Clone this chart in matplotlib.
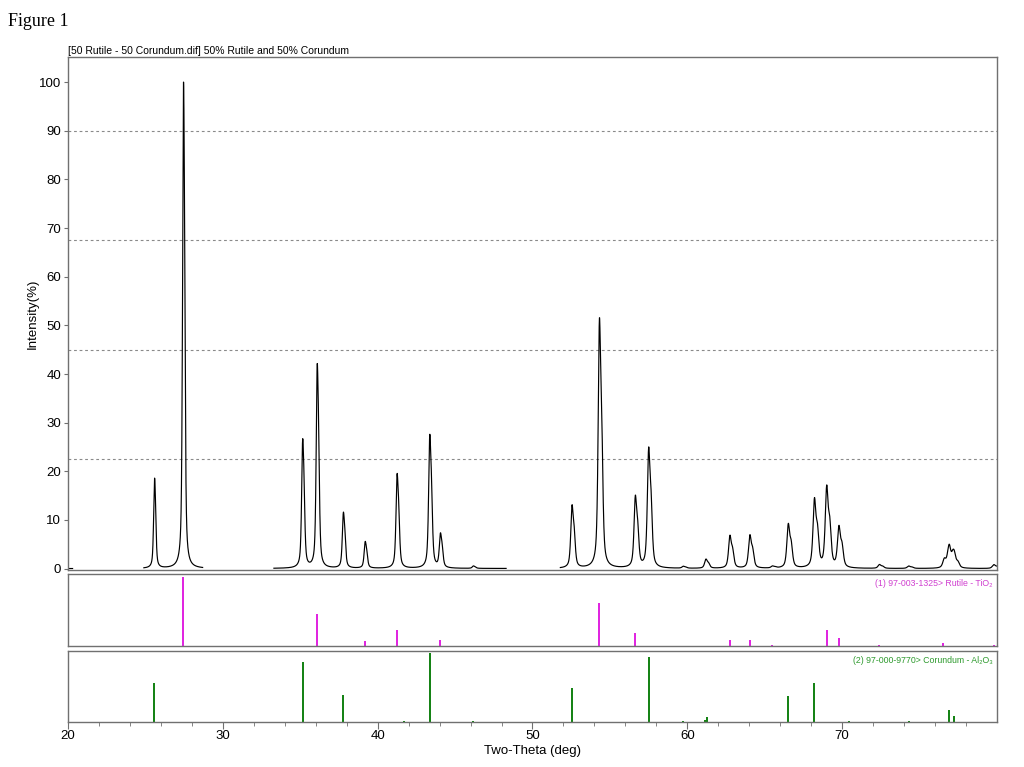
import numpy as np
import matplotlib
matplotlib.use("Agg")
import matplotlib.pyplot as plt

plt.rcParams['font.family'] = ['Liberation Sans', 'DejaVu Sans']

# observed pattern: peak positions (2-theta, deg) and peak heights (%)
peak_pos = [25.58, 27.45, 35.15, 36.09, 37.78, 39.19, 41.25, 43.36, 44.05, 46.18,
            52.55, 54.32, 56.64, 57.50, 59.74, 61.20, 62.75, 64.04, 65.50, 66.52,
            68.21, 69.00, 69.79, 72.41, 74.30, 76.60, 76.92, 77.25, 79.80]
peak_height = [18.5, 100, 26.5, 42, 11.5, 5.5, 19.5, 27.5, 7, 0.5,
               13, 51.5, 14.8, 24.8, 0.4, 1.9, 6.8, 6.9, 0.4, 9.2,
               14.3, 16.8, 8.5, 0.8, 0.5, 1.8, 4.2, 2.2, 0.8]
# ranges where the scan trace is drawn
drawn_ranges = [(20.0, 20.3), (24.9, 28.7), (33.3, 48.3), (51.8, 80.0)]

# reference sticks: Rutile TiO2
rutile_pos = [27.45, 36.09, 39.19, 41.25, 44.05, 54.32, 56.64, 62.75, 64.04, 65.48,
              69.01, 69.79, 72.41, 76.52, 79.82]
rutile_int = [100, 46, 7, 23, 8, 62, 19, 9, 9, 1, 23, 12, 2, 4, 1]

# reference sticks: Corundum Al2O3
corundum_pos = [25.58, 35.15, 37.78, 41.68, 43.36, 46.18, 52.55, 57.50, 59.74, 61.12,
                61.30, 66.52, 68.21, 70.42, 74.30, 76.87, 77.23]
corundum_int = [56, 87, 39, 1, 100, 2, 49, 94, 2, 3, 7, 38, 56, 1, 2, 17, 8]

# build trace (pseudo-Voigt, Ka1 + Ka2)
tt = np.arange(20.0, 80.0, 0.004)
lam_ratio = 1.54443 / 1.54056


def shape(x, c, w, eta=0.6):
    g = np.exp(-4 * np.log(2) * ((x - c) / w) ** 2)
    lor = 1.0 / (1.0 + 4 * ((x - c) / w) ** 2)
    return eta * lor + (1 - eta) * g


trace = np.zeros_like(tt)
for p, h in zip(peak_pos, peak_height):
    w = 0.12 + 0.002 * (p - 20)
    p2 = 2 * np.degrees(np.arcsin(lam_ratio * np.sin(np.radians(p / 2))))
    prof = shape(tt, p, w) + 0.5 * shape(tt, p2, w)
    trace += h * prof / prof.max()

mask = np.zeros_like(tt, dtype=bool)
for a, b in drawn_ranges:
    mask |= (tt >= a) & (tt <= b)
trace_plot = np.where(mask, trace, np.nan)

frame_col = '#707070'

fig = plt.figure(figsize=(10.24, 7.67), dpi=100)
ax = fig.add_axes([0.0664, 0.2568, 0.9072, 0.669])
ax_r = fig.add_axes([0.0664, 0.1578, 0.9072, 0.0939])
ax_c = fig.add_axes([0.0664, 0.0587, 0.9072, 0.0926])

# main trace
ax.plot(tt, trace_plot, color='black', lw=0.85)
for g in [22.5, 45, 67.5, 90]:
    ax.axhline(g, color='#8a8a8a', lw=0.8, ls=(0, (2.5, 2.5)), zorder=0)
ax.set_xlim(20, 80)
ax.set_ylim(-0.3, 105.2)
ax.set_yticks(range(0, 101, 10))
ax.set_xticks([])
ax.tick_params(axis='y', direction='out', length=3, color=frame_col, labelsize=9.5, pad=2)
ax.set_ylabel('Intensity(%)', fontsize=9.5, labelpad=0)
ax.set_title('[50 Rutile - 50 Corundum.dif] 50% Rutile and 50% Corundum',
             fontsize=7.5, loc='left', pad=2)

# rutile sticks
ax_r.vlines(rutile_pos, 0, rutile_int, color='#e020e0', lw=1.4)
ax_r.set_xlim(20, 80)
ax_r.set_ylim(0, 104)
ax_r.set_xticks([])
ax_r.set_yticks([])
ax_r.text(0.995, 0.93, '(1) 97-003-1325> Rutile - TiO\u2082', transform=ax_r.transAxes,
          ha='right', va='top', fontsize=6.3, color='#d040d0')

# corundum sticks
ax_c.vlines(corundum_pos, 0, corundum_int, color='#108010', lw=1.4)
ax_c.set_xlim(20, 80)
ax_c.set_ylim(0, 103)
ax_c.set_yticks([])
ax_c.set_xticks(range(20, 80, 10))
ax_c.set_xticks(np.arange(20, 80, 2), minor=True)
ax_c.tick_params(axis='x', which='major', direction='out', length=5, color=frame_col,
                 labelsize=9.5, pad=1)
ax_c.tick_params(axis='x', which='minor', direction='out', length=3, color=frame_col)
ax_c.set_xlabel('Two-Theta (deg)', fontsize=9.5, labelpad=2)
ax_c.text(0.995, 0.93, '(2) 97-000-9770> Corundum - Al\u2082O\u2083', transform=ax_c.transAxes,
          ha='right', va='top', fontsize=6.3, color='#2e9a2e')

for a in (ax, ax_r, ax_c):
    for s in a.spines.values():
        s.set_color(frame_col)
        s.set_linewidth(1.0)

fig.text(0.008, 0.972, 'Figure 1', fontsize=13, family='Liberation Serif', va='center')

fig.savefig('out.png', dpi=100)
